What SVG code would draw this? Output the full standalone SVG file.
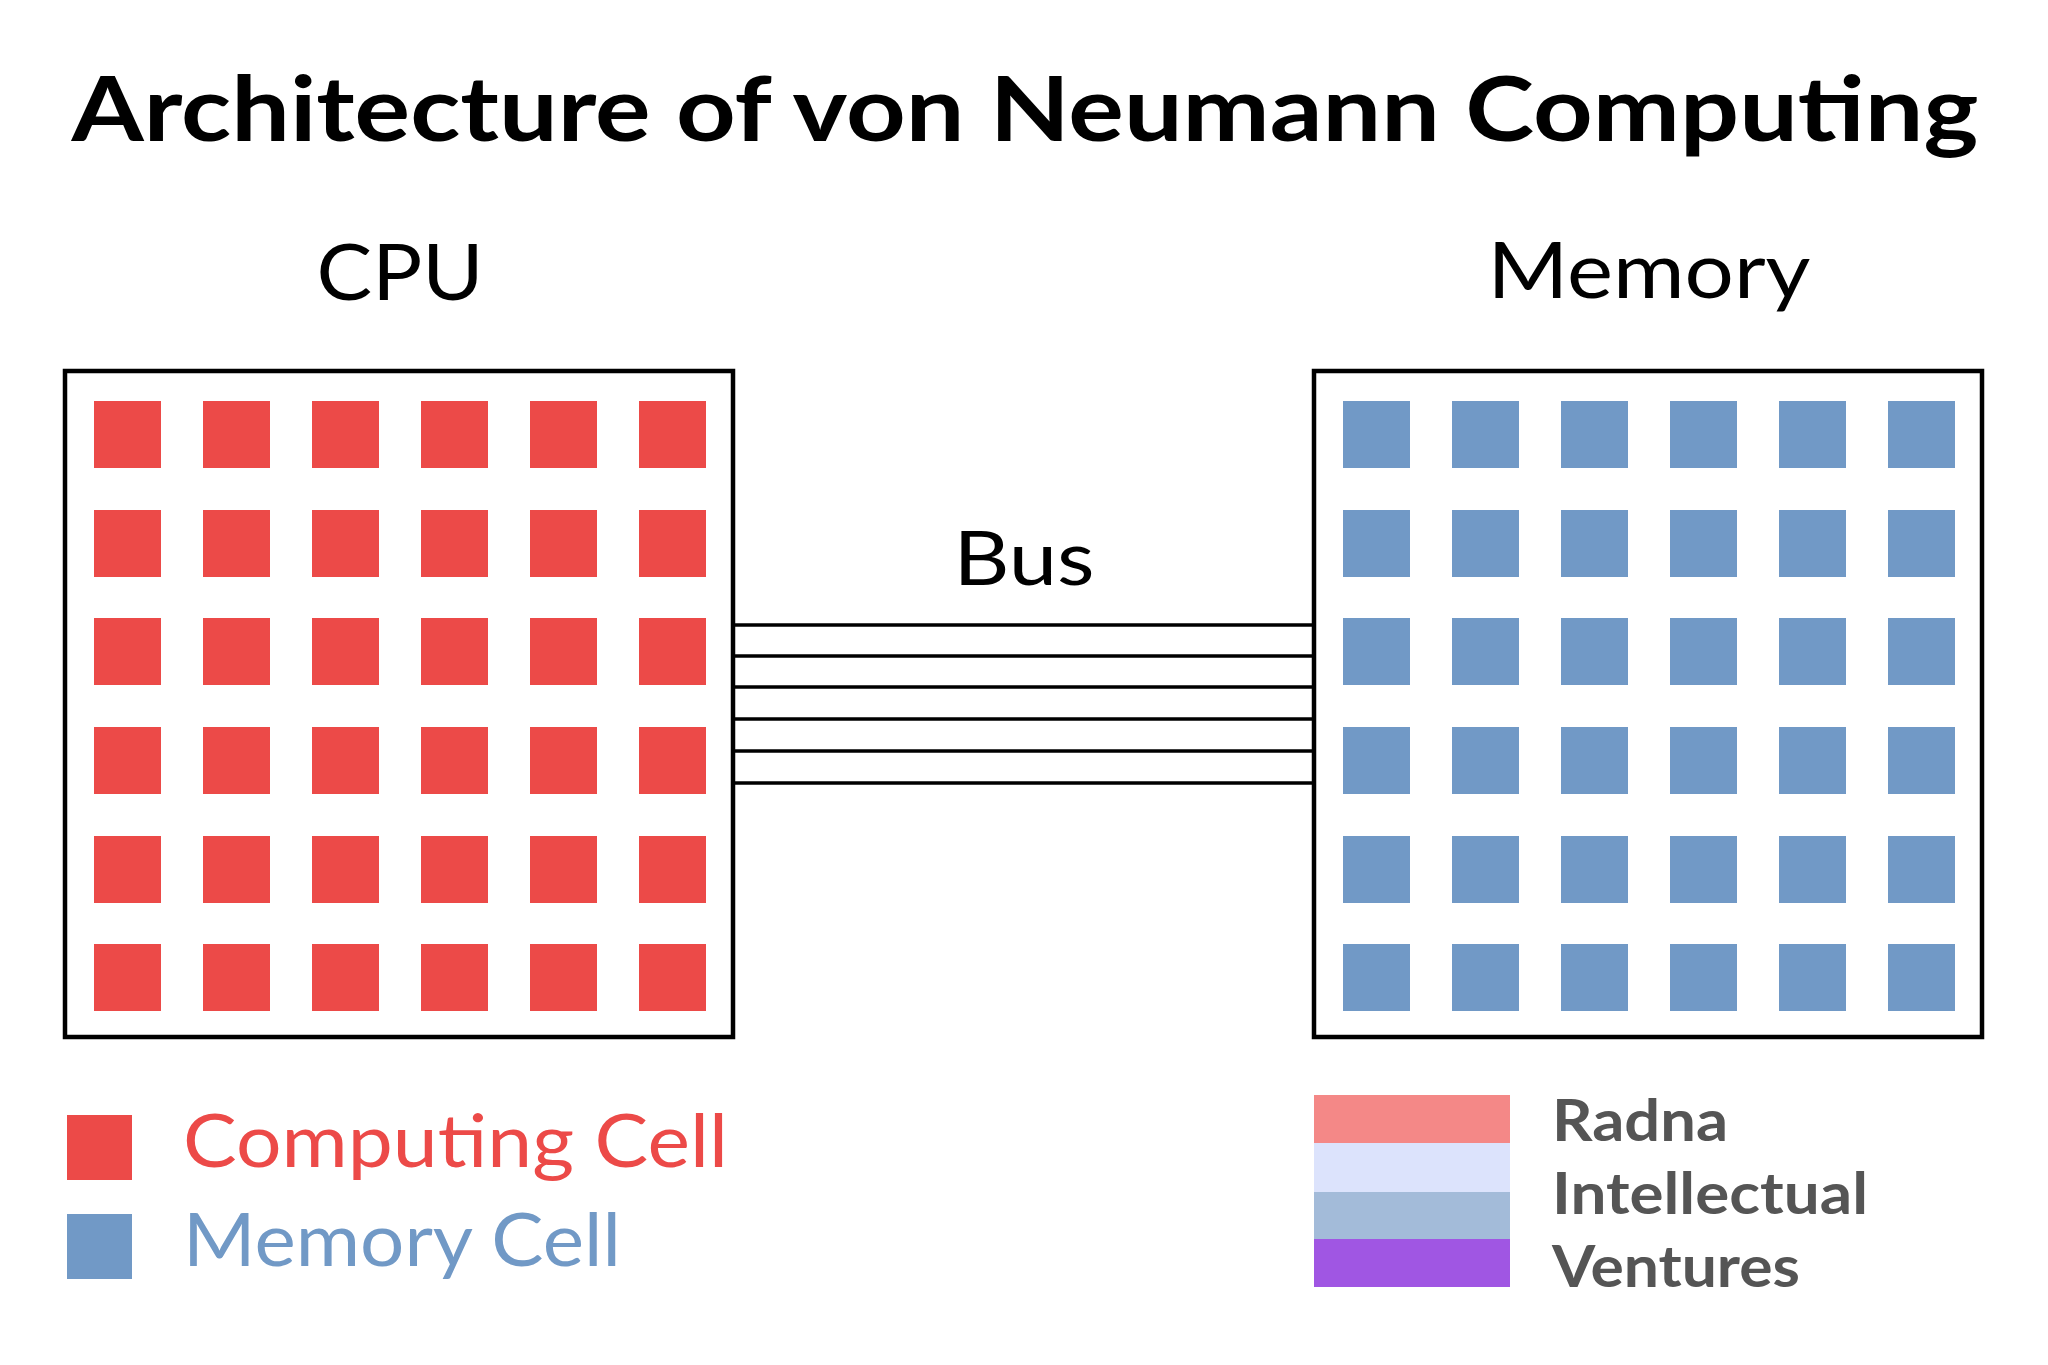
<svg xmlns="http://www.w3.org/2000/svg" width="2048" height="1365" viewBox="0 0 2048 1365">
<style>
.t{font-family:"Lato","Liberation Sans",sans-serif;fill:#000}
.box{fill:#fff;stroke:#000;stroke-width:4.5}
.c{fill:#EC4A48}
.m{fill:#7199C6}
.bus line{stroke:#000;stroke-width:3.5}
.logo{font-family:"Lato","Liberation Sans",sans-serif;font-weight:bold;font-size:58px;fill:#555}
</style>
<defs>
<g id="rowc"><rect class="c" x="0" y="0" width="67" height="67"/><rect class="c" x="109" y="0" width="67" height="67"/><rect class="c" x="218" y="0" width="67" height="67"/><rect class="c" x="327" y="0" width="67" height="67"/><rect class="c" x="436" y="0" width="67" height="67"/><rect class="c" x="545" y="0" width="67" height="67"/></g>
<g id="rowm"><rect class="m" x="0" y="0" width="67" height="67"/><rect class="m" x="109" y="0" width="67" height="67"/><rect class="m" x="218" y="0" width="67" height="67"/><rect class="m" x="327" y="0" width="67" height="67"/><rect class="m" x="436" y="0" width="67" height="67"/><rect class="m" x="545" y="0" width="67" height="67"/></g>
</defs>
<rect width="2048" height="1365" fill="#fff"/>
<text class="t" x="1025" y="141" text-anchor="middle" font-size="90" font-weight="bold" textLength="1907" lengthAdjust="spacingAndGlyphs">Architecture of von Neumann Computing</text>
<g id="cpu">
<text class="t" x="400" y="300" text-anchor="middle" font-size="78" textLength="167" lengthAdjust="spacingAndGlyphs">CPU</text>
<rect class="box" x="65" y="371" width="668" height="666"/>
<use href="#rowc" x="94" y="401"/><use href="#rowc" x="94" y="510"/><use href="#rowc" x="94" y="618"/><use href="#rowc" x="94" y="727"/><use href="#rowc" x="94" y="836"/><use href="#rowc" x="94" y="944"/>
</g>
<g id="memory">
<text class="t" x="1649" y="298" text-anchor="middle" font-size="78" textLength="323" lengthAdjust="spacingAndGlyphs">Memory</text>
<rect class="box" x="1314" y="371" width="668" height="666"/>
<use href="#rowm" x="1343" y="401"/><use href="#rowm" x="1343" y="510"/><use href="#rowm" x="1343" y="618"/><use href="#rowm" x="1343" y="727"/><use href="#rowm" x="1343" y="836"/><use href="#rowm" x="1343" y="944"/>
</g>
<g id="connectors" class="bus">
<line x1="733" y1="625" x2="1314" y2="625"/><line x1="733" y1="656" x2="1314" y2="656"/><line x1="733" y1="687" x2="1314" y2="687"/><line x1="733" y1="719" x2="1314" y2="719"/><line x1="733" y1="751" x2="1314" y2="751"/><line x1="733" y1="783" x2="1314" y2="783"/>
</g>
<text class="t" x="1024" y="585" text-anchor="middle" font-size="76" textLength="141" lengthAdjust="spacingAndGlyphs">Bus</text>
<g id="legend">
<rect class="c" x="67" y="1115" width="65" height="65"/>
<text x="183" y="1167" font-family="Lato,'Liberation Sans',sans-serif" font-size="74" fill="#EC4A48" textLength="545" lengthAdjust="spacingAndGlyphs">Computing Cell</text>
<rect class="m" x="67" y="1214" width="65" height="65"/>
<text x="183" y="1266" font-family="Lato,'Liberation Sans',sans-serif" font-size="74" fill="#7199C6" textLength="438" lengthAdjust="spacingAndGlyphs">Memory Cell</text>
</g>
<g id="logo">
<rect x="1314" y="1095" width="196" height="48" fill="#F48887"/>
<rect x="1314" y="1143" width="196" height="49" fill="#DCE3FC"/>
<rect x="1314" y="1192" width="196" height="47" fill="#A3BBD9"/>
<rect x="1314" y="1239" width="196" height="48" fill="#A056E3"/>
<text class="logo" x="1552" y="1141" textLength="176" lengthAdjust="spacingAndGlyphs">Radna</text>
<text class="logo" x="1552" y="1214" textLength="316" lengthAdjust="spacingAndGlyphs">Intellectual</text>
<text class="logo" x="1552" y="1287" textLength="248" lengthAdjust="spacingAndGlyphs">Ventures</text>
</g>
</svg>
